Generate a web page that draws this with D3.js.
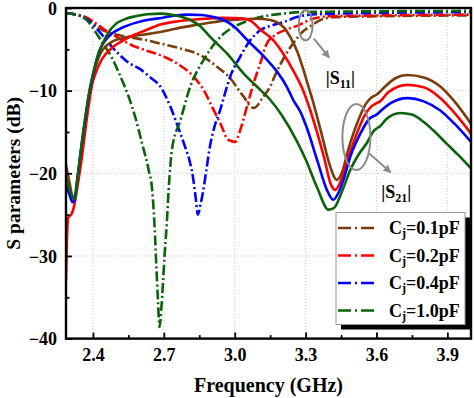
<!DOCTYPE html>
<html><head><meta charset="utf-8">
<script src="https://cdn.jsdelivr.net/npm/d3@7"></script>
<style>body{margin:0;background:#fff}</style>
</head><body><svg id="c" width="474" height="398"></svg>
<script>
const xTicks=[2.4,2.7,3.0,3.3,3.6,3.9];
const xMinor=[2.55,2.85,3.15,3.45,3.75];
const yTicks=[0,-10,-20,-30,-40];
const yMinor=[-5,-15,-25,-35];
const legendLabels=["0.1pF","0.2pF","0.4pF","1.0pF"];
const seriesColors=["#7a3c0a","#ff0000","#0000ff","#0b640b"];

// |S21| (solid)
const s21_01=[[2.286,-19.0],[2.30,-21.0],[2.315,-23.0],[2.323,-23.2],[2.335,-20.5],[2.35,-17.3],[2.365,-14.2],[2.38,-11.3],[2.395,-9.0],[2.41,-7.2],[2.43,-5.6],[2.455,-4.6],[2.48,-4.1],[2.55,-3.5],[2.643,-3.1],[2.685,-2.9],[2.75,-2.5],[2.826,-2.1],[2.9,-1.75],[2.967,-1.5],[3.04,-1.35],[3.094,-1.3],[3.15,-1.45],[3.18,-1.75],[3.21,-2.4],[3.235,-3.5],[3.265,-5.3],[3.29,-7.4],[3.31,-9.3],[3.334,-11.6],[3.37,-15.5],[3.40,-18.8],[3.432,-20.8],[3.455,-19.8],[3.48,-17.2],[3.52,-13.8],[3.555,-11.6],[3.58,-10.8],[3.60,-10.5],[3.64,-9.4],[3.68,-8.5],[3.73,-8.1],[3.80,-8.4],[3.87,-9.5],[3.93,-11.3],[4.0,-14.0]];
const s21_02=[[2.286,-33],[2.29,-28],[2.295,-25.4],[2.31,-24.9],[2.32,-24.0],[2.335,-21.5],[2.355,-17.7],[2.37,-14.3],[2.383,-11.6],[2.397,-9.2],[2.41,-8.0],[2.43,-6.6],[2.453,-5.6],[2.49,-4.6],[2.524,-4.0],[2.57,-3.3],[2.623,-2.7],[2.685,-2.0],[2.76,-1.6],[2.85,-1.35],[2.95,-1.2],[3.03,-1.25],[3.07,-1.6],[3.108,-2.6],[3.16,-3.8],[3.207,-5.6],[3.25,-7.7],[3.29,-10.0],[3.32,-12.4],[3.348,-15.0],[3.38,-18.3],[3.405,-21.2],[3.425,-22.0],[3.445,-21.2],[3.47,-19.0],[3.51,-15.7],[3.55,-13.0],[3.575,-12.0],[3.595,-11.6],[3.615,-11.3],[3.65,-10.2],[3.73,-9.3],[3.80,-9.6],[3.87,-10.9],[3.93,-12.7],[4.0,-15.2]];
const s21_04=[[2.286,-21.5],[2.30,-22.5],[2.313,-23.5],[2.32,-23.3],[2.335,-20.5],[2.35,-17.0],[2.365,-14.0],[2.38,-11.0],[2.395,-8.8],[2.41,-6.9],[2.43,-5.0],[2.455,-3.8],[2.48,-3.1],[2.53,-2.3],[2.58,-1.8],[2.64,-1.4],[2.69,-1.2],[2.75,-0.9],[2.80,-0.8],[2.86,-0.85],[2.91,-1.1],[2.953,-1.45],[3.0,-2.3],[3.037,-3.4],[3.075,-4.5],[3.108,-5.4],[3.15,-6.7],[3.179,-7.7],[3.22,-9.5],[3.249,-11.2],[3.277,-12.5],[3.304,-14.4],[3.35,-18.5],[3.39,-22.0],[3.417,-23.2],[3.44,-22.3],[3.46,-20.8],[3.489,-18.0],[3.53,-15.3],[3.57,-13.4],[3.60,-12.9],[3.62,-12.4],[3.66,-11.5],[3.73,-10.9],[3.80,-11.3],[3.87,-12.4],[3.93,-14.0],[4.0,-16.2]];
const s21_10=[[2.286,-20.6],[2.30,-21.8],[2.312,-22.8],[2.324,-23.1],[2.335,-20.5],[2.347,-17.7],[2.362,-14.3],[2.376,-11.6],[2.39,-9.3],[2.404,-7.6],[2.42,-5.8],[2.44,-4.4],[2.465,-3.0],[2.496,-1.95],[2.54,-1.3],[2.58,-1.0],[2.63,-0.75],[2.69,-0.68],[2.75,-0.9],[2.812,-1.45],[2.854,-2.2],[2.896,-3.5],[2.967,-5.5],[3.037,-7.9],[3.108,-9.9],[3.15,-11.1],[3.2,-13.0],[3.263,-16.1],[3.30,-18.3],[3.35,-21.8],[3.397,-24.4],[3.42,-24.2],[3.45,-22.5],[3.489,-19.6],[3.525,-17.7],[3.56,-16.3],[3.585,-15.0],[3.60,-14.6],[3.615,-14.3],[3.64,-13.5],[3.70,-12.7],[3.75,-12.9],[3.80,-13.8],[3.84,-14.8],[3.90,-16.5],[3.95,-17.9],[4.0,-19.4]];

// |S11| (dash-dot)
const s11_01=[[2.286,-0.6],[2.33,-0.8],[2.37,-1.2],[2.40,-1.8],[2.43,-2.5],[2.47,-3.0],[2.55,-3.5],[2.643,-4.0],[2.685,-4.3],[2.77,-4.9],[2.854,-5.7],[2.925,-7.1],[2.981,-8.5],[3.037,-10.7],[3.08,-12.1],[3.122,-10.7],[3.15,-9.5],[3.17,-8.2],[3.221,-5.4],[3.26,-3.8],[3.29,-2.8],[3.32,-2.2],[3.36,-1.5],[3.42,-1.1],[3.6,-1.0],[4.0,-0.9]];
const s11_02=[[2.286,-0.6],[2.33,-0.8],[2.37,-1.1],[2.41,-1.8],[2.453,-2.7],[2.50,-3.5],[2.55,-4.3],[2.60,-4.9],[2.643,-5.3],[2.685,-5.7],[2.755,-6.7],[2.826,-8.3],[2.868,-9.9],[2.91,-12.3],[2.946,-14.4],[2.967,-15.8],[2.985,-16.1],[3.002,-16.2],[3.023,-14.8],[3.052,-11.9],[3.08,-9.1],[3.108,-6.7],[3.136,-4.3],[3.17,-3.3],[3.22,-2.6],[3.27,-2.1],[3.32,-1.4],[3.4,-1.0],[3.6,-0.9],[4.0,-0.8]];
const s11_04=[[2.286,-0.6],[2.32,-0.75],[2.35,-1.0],[2.38,-1.5],[2.41,-2.3],[2.44,-3.3],[2.49,-5.0],[2.55,-6.6],[2.60,-7.4],[2.643,-8.4],[2.685,-9.5],[2.727,-11.9],[2.755,-14.0],[2.79,-16.8],[2.81,-18.6],[2.823,-20.4],[2.835,-23.0],[2.844,-25.0],[2.855,-23.8],[2.865,-22.4],[2.88,-19.6],[2.896,-16.6],[2.915,-14.3],[2.939,-12.3],[2.96,-10.2],[2.981,-8.3],[3.023,-5.9],[3.066,-3.9],[3.108,-2.7],[3.16,-2.1],[3.207,-1.7],[3.263,-1.1],[3.35,-0.75],[3.6,-0.6],[4.0,-0.5]];
const s11_10=[[2.286,-0.6],[2.32,-0.75],[2.35,-1.0],[2.375,-1.5],[2.397,-2.3],[2.42,-3.3],[2.45,-4.6],[2.48,-6.0],[2.515,-8.2],[2.552,-10.8],[2.58,-13.3],[2.609,-16.5],[2.635,-19.5],[2.651,-22.1],[2.661,-26.5],[2.668,-31],[2.675,-35.3],[2.682,-38.6],[2.689,-36.5],[2.696,-33.5],[2.703,-30],[2.71,-27.2],[2.724,-20.4],[2.734,-17.2],[2.77,-13.6],[2.812,-9.5],[2.868,-6.3],[2.939,-3.5],[3.009,-2.1],[3.066,-1.45],[3.136,-0.93],[3.2,-0.7],[3.277,-0.5],[3.4,-0.45],[3.6,-0.4],[4.0,-0.35]];

const s21All=[s21_01,s21_02,s21_04,s21_10];
const s11All=[s11_01,s11_02,s11_04,s11_10];

const svg=d3.select("#c");
const FONT="'Liberation Serif','Times New Roman',serif";
const L=66,R=471,T=8,B=338.6;
const x=d3.scaleLinear().domain([2.286,4.0]).range([L,R]);
const y=d3.scaleLinear().domain([-40,0]).range([B,T]);
const DASH="10,3,2,3";

// grid
const grid=svg.append("g").attr("stroke","#c8c8c8").attr("stroke-width",1).attr("stroke-dasharray","1,2");
grid.selectAll("line.gx").data(xTicks).join("line").attr("x1",d=>x(d)).attr("x2",d=>x(d)).attr("y1",T).attr("y2",B);
grid.selectAll("line.gy").data([-10,-20,-30]).join("line").attr("x1",L).attr("x2",R).attr("y1",d=>y(d)).attr("y2",d=>y(d));

svg.append("clipPath").attr("id","clip").append("rect").attr("x",L).attr("y",T).attr("width",R-L).attr("height",B-T);
const plot=svg.append("g").attr("clip-path","url(#clip)");
const line=d3.line().x(d=>x(d[0])).y(d=>y(d[1])).curve(d3.curveMonotoneX);

s11All.forEach((s,i)=>{
  plot.append("path").attr("d",line(s)).attr("fill","none").attr("stroke",seriesColors[i]).attr("stroke-width",2.6).attr("stroke-dasharray",DASH);
});
s21All.forEach((s,i)=>{
  plot.append("path").attr("d",line(s)).attr("fill","none").attr("stroke",seriesColors[i]).attr("stroke-width",2.6);
});

// axes
const xa=svg.append("g").attr("transform",`translate(0,${B})`)
  .call(d3.axisBottom(x).tickValues(xTicks).tickSize(-6).tickPadding(10).tickFormat(d3.format(".1f")));
const xm=svg.append("g").attr("transform",`translate(0,${B})`)
  .call(d3.axisBottom(x).tickValues(xMinor).tickSize(-3.5).tickFormat(""));
const ya=svg.append("g").attr("transform",`translate(${L},0)`)
  .call(d3.axisLeft(y).tickValues(yTicks).tickSize(-6).tickPadding(9).tickFormat(d3.format("d")));
const ym=svg.append("g").attr("transform",`translate(${L},0)`)
  .call(d3.axisLeft(y).tickValues(yMinor).tickSize(-3.5).tickFormat(""));
[xa,xm,ya,ym].forEach(g=>{g.select(".domain").remove();g.selectAll("line").attr("stroke","#000").attr("stroke-width",1.8);});
[xa,ya].forEach(g=>g.selectAll("text").attr("font-family",FONT).attr("font-weight","bold").attr("font-size",18).attr("fill","#000"));
ya.selectAll("text").attr("dy","0.34em");

svg.append("rect").attr("x",L).attr("y",T).attr("width",R-L).attr("height",B-T).attr("fill","none").attr("stroke","#000").attr("stroke-width",2.4);

// axis titles
svg.append("text").attr("x",(L+R)/2).attr("y",392).attr("text-anchor","middle").attr("font-family",FONT).attr("font-weight","bold").attr("font-size",20).text("Frequency (GHz)");
svg.append("text").attr("transform",`translate(20,${(T+B)/2}) rotate(-90)`).attr("text-anchor","middle").attr("font-family",FONT).attr("font-weight","bold").attr("font-size",19.5).text("S parameters (dB)");

// annotations
const GRAY="#8a8a8a";
svg.append("defs").append("marker").attr("id","ah").attr("viewBox","0 0 10 10").attr("refX",9).attr("refY",5)
  .attr("markerWidth",4).attr("markerHeight",4).attr("orient","auto").append("path").attr("d","M0,0L10,5L0,10Z").attr("fill",GRAY);
const ann=svg.append("g");
ann.append("ellipse").attr("cx",x(3.3)).attr("cy",y(-2.1)).attr("rx",7).attr("ry",15).attr("fill","none").attr("stroke",GRAY).attr("stroke-width",2);
ann.append("line").attr("x1",x(3.335)).attr("y1",y(-3.7)).attr("x2",x(3.4)).attr("y2",y(-6)).attr("stroke",GRAY).attr("stroke-width",2).attr("marker-end","url(#ah)");
ann.append("ellipse").attr("cx",x(3.515)).attr("cy",y(-15.6)).attr("rx",14).attr("ry",33).attr("fill","none").attr("stroke",GRAY).attr("stroke-width",2);
ann.append("line").attr("x1",x(3.57)).attr("y1",y(-17.6)).attr("x2",x(3.66)).attr("y2",y(-19.9)).attr("stroke",GRAY).attr("stroke-width",2).attr("marker-end","url(#ah)");

function subLabel(px,py,sub){
  const t=svg.append("text").attr("x",px).attr("y",py).attr("font-family",FONT).attr("font-weight","bold").attr("font-size",18);
  t.append("tspan").text("|S");
  t.append("tspan").attr("dy",4).attr("font-size",12).text(sub);
  t.append("tspan").attr("dy",-4).text("|");
}
subLabel(x(3.385),y(-9.2),"11");
subLabel(x(3.62),y(-23.0),"21");

// legend
const lg=svg.append("g");
lg.append("rect").attr("x",341).attr("y",217.5).attr("width",129).attr("height",112).attr("fill","#000");
lg.append("rect").attr("x",336).attr("y",212.5).attr("width",129).attr("height",112).attr("fill","#fff").attr("stroke","#999").attr("stroke-width",1);
const rowY=[228,255.5,283,310.5];
legendLabels.forEach((lab,i)=>{
  lg.append("line").attr("x1",338).attr("x2",382).attr("y1",rowY[i]).attr("y2",rowY[i]).attr("stroke",seriesColors[i]).attr("stroke-width",2.6).attr("stroke-dasharray","13,4,2,4,13");
  const t=lg.append("text").attr("x",389).attr("y",rowY[i]+6).attr("font-family",FONT).attr("font-weight","bold").attr("font-size",18);
  t.append("tspan").text("C");
  t.append("tspan").attr("dy",3).attr("font-size",12).text("j");
  t.append("tspan").attr("dy",-3).text("="+lab);
});
</script></body></html>
